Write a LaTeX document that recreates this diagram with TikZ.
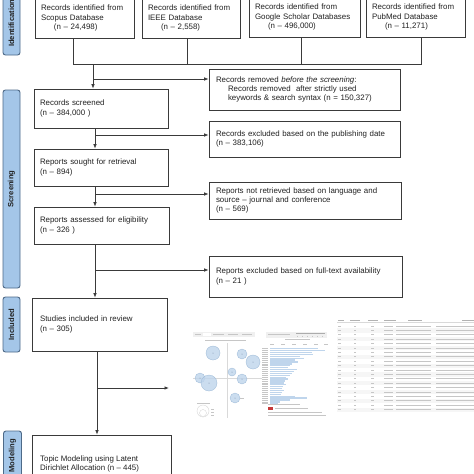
\documentclass[tikz,border=0pt]{standalone}
\usepackage{fontspec}
\setmainfont{Liberation Sans}
\usetikzlibrary{arrows.meta}
\definecolor{sidefill}{HTML}{A4C6E8}
\definecolor{sideline}{HTML}{4E6A88}
\definecolor{boxline}{HTML}{3A3A3A}
\definecolor{txt}{HTML}{222222}
\definecolor{ldablue}{HTML}{BFD5EC}
\definecolor{ldaline}{HTML}{9BB8D6}
\tikzset{
  prisma/.style={draw=boxline, line width=0.8pt, fill=white, inner xsep=6pt, inner ysep=0pt,
    align=left, text=txt, font=\fontsize{7.9}{9.3}\selectfont},
  boxtext/.style={inner sep=0pt, align=left, text=txt, font=\fontsize{7.9}{9.3}\selectfont},
  side/.style={draw=sideline, line width=0.9pt, fill=sidefill, rounded corners=2.5pt, inner sep=0pt,
    text=txt, font=\bfseries\fontsize{7.6}{9}\selectfont},
  sidetxt/.style={rotate=90, font=\bfseries\fontsize{7.6}{9}\selectfont, text=txt, inner sep=0pt},
  flow/.style={draw=boxline, line width=0.8pt},
  arr/.style={flow, -{Latex[length=4.5pt,width=3.6pt]}},
  ph/.style={draw=gray!45, line width=0.7pt},
  bubble/.style={fill=ldablue, fill opacity=0.8, draw=ldaline, line width=0.3pt}
}
\begin{document}
\begin{tikzpicture}[x=1pt,y=-1pt]
\useasboundingbox (0,0) rectangle (474,474);
\clip (0,0) rectangle (474,474);
\fill[white] (0,0) rectangle (474,474);

% sidebars
\node[side, minimum width=17pt, minimum height=80pt] (sid) at (11.5,15) {};
\node[sidetxt, anchor=west] (sidt) at (11.5,47) {Identification};
\node[side, rotate=90, minimum width=198pt, minimum height=17pt] (sscr) at (11.5,189) {Screening};
\node[side, rotate=90, minimum width=55pt, minimum height=17pt] (sinc) at (11.5,324.5) {Included};
\node[side, minimum width=18pt, minimum height=80pt] (smod) at (12.5,471) {};
\node[sidetxt, anchor=east] (smodt) at (12.5,439) {Modeling};

% identification boxes
\node[prisma, text width=87pt, minimum height=40pt] (scopus) at (84.5,18)
  {Records identified from\\Scopus Database\\\hspace*{13pt}(n -- 24,498)};
\node[prisma, text width=86pt, minimum height=40pt] (ieee) at (191,18)
  {Records identified from\\IEEE Database\\\hspace*{13pt}(n -- 2,558)};
\node[prisma, text width=99pt, minimum height=40pt] (google) at (304.5,17)
  {Records identified from\\Google Scholar Databases\\\hspace*{13pt}(n -- 496,000)};
\node[prisma, text width=87pt, minimum height=40pt] (pubmed) at (415.5,17)
  {Records identified from\\PubMed Database\\\hspace*{13pt}(n -- 11,271)};

% screening boxes
\node[prisma, text width=122pt, minimum height=39pt] (screened) at (101,108.5)
  {Records screened\\(n -- 384,000 )};
\node[prisma, inner xsep=7pt, text width=177pt, minimum height=41pt] (removed) at (304.5,89.5)
  {Records removed \textit{before the screening}:\\\hspace*{12pt}Records removed\ \ after strictly used\\\hspace*{12pt}keywords \& search syntax (n = 150,327)};
\node[prisma, inner xsep=7pt, text width=177pt, minimum height=36pt] (excluded) at (304.5,139)
  {Records excluded based on the publishing date\\(n -- 383,106)};
\node[prisma, text width=122pt, minimum height=37pt] (sought) at (101,167.5)
  {Reports sought for retrieval\\(n -- 894)};
\node[prisma, inner xsep=7pt, text width=178pt, minimum height=37pt] (notret) at (305,200.5)
  {Reports not retrieved based on language and\\source -- journal and conference\\(n -- 569)};
\node[prisma, text width=123pt, minimum height=37pt] (assessed) at (101.5,225.5)
  {Reports assessed for eligibility\\(n -- 326 )};
\node[prisma, inner xsep=7pt, text width=179pt, minimum height=41pt] (fulltext) at (305.5,276.5)
  {Reports excluded based on full-text availability\\(n -- 21 )\\[2pt]};
\node[prisma, inner xsep=8pt, text width=119pt, minimum height=53pt] (included) at (99.5,324.5)
  {Studies included in review\\(n -- 305)};
\node[prisma, minimum width=139pt, minimum height=70pt] (topic) at (101.5,470) {};
\node[boxtext, anchor=base west] (topict) at (40,470.5)
  {Topic Modeling using Latent\\Dirichlet Allocation (n -- 445)};

% connectors
\coordinate (jl) at (73,64);
\coordinate (jr) at (421,64);
\coordinate (j2) at (187,64);
\coordinate (j3) at (301,64);
\draw[flow] (jl |- scopus.south) -- (jl) -- (jr) -- (jr |- pubmed.south);
\draw[flow] (j2 |- ieee.south) -- (j2);
\draw[flow] (j3 |- google.south) -- (j3);
\coordinate (jd) at (93,64);
\draw[arr] (jd) -- (jd |- screened.north);
\coordinate (b1) at (93,79);
\draw[arr] (b1) -- (b1 -| removed.west);

\coordinate (d2) at (95,0);
\draw[arr] (d2 |- screened.south) -- (d2 |- sought.north);
\coordinate (b2) at (95,135);
\draw[arr] (b2) -- (b2 -| excluded.west);
\draw[arr] (d2 |- sought.south) -- (d2 |- assessed.north);
\coordinate (b3) at (95,194);
\draw[arr] (b3) -- (b3 -| notret.west);
\draw[arr] (d2 |- assessed.south) -- (d2 |- included.north);
\coordinate (b4) at (95,270);
\draw[arr] (b4) -- (b4 -| fulltext.west);

\coordinate (d5) at (97,0);
\draw[arr] (d5 |- included.south) -- (d5 |- topic.north);
\coordinate (b5) at (97,388);
\coordinate (ldain) at (169,388);
\draw[arr] (b5) -- (ldain);

% ---- LDA visualisation (picture) ----
\fill[gray!12] (193,332) rectangle (255,337);
\fill[white] (203,333) rectangle (211,336);
\draw[ph, line width=0.5pt] (195,334.5) -- (201,334.5) (213,334.5) -- (224,334.5) (228,334.5) -- (238,334.5) (242,334.5) -- (252,334.5);
\fill[gray!12] (266,332) rectangle (327,338);
\draw[ph, line width=0.5pt] (268,334.5) -- (290,334.5);
\draw[gray!65, line width=1pt] (296,333.5) -- (325,333.5);
\foreach \t in {297,302,...,325} \draw[gray!45, line width=0.3pt] (\t,335.5) -- (\t,337);
\draw[ph, line width=0.6pt] (205,340.5) -- (246,340.5);
\draw[ph, line width=0.6pt] (285,339.5) -- (310,339.5);
\foreach \t in {272,283,294,305,316,326} \draw[gray!45, line width=0.5pt] (\t-2,344) -- (\t+2,344);
\draw[gray!30, line width=0.3pt] (227,343) -- (227,418);
\draw[gray!30, line width=0.3pt] (193,378) -- (262,378);
\foreach \cx/\cy/\r in {213/353/7, 242/354/5, 253/362/7, 232/372/4, 200/378/5, 209/383/8, 242/379/5, 235/398/5}{
  \path[bubble] (\cx,\cy) circle (\r);
  \fill[ldaline!80!black] (\cx,\cy) circle (0.5);
}
\draw[ph, line width=0.4pt] (240,398) -- (244,398);
\draw[gray!35, line width=0.3pt] (203,411) circle (6);
\draw[gray!35, line width=0.3pt] (203,413) circle (3.5);
\draw[ph, line width=0.4pt] (197,403) -- (210,403) (211,409) -- (214,409) (211,412) -- (214,412) (211,415) -- (214,415);
\foreach \l [count=\i from 0] in {48,55,42,43,30,34,25,28,22,20,18,27,24,22,20,16,18,15,14,16,13,12,14,12,11,25,37,20,10,8}{
  \fill[ldablue] (270,{348+1.9*\i}) rectangle ++(\l,1.3);
  \fill[gray!45] (262,{348.3+1.9*\i}) rectangle ++(6,0.7);
}
\fill[red!55!gray] (268,406.5) rectangle (273,409.5);
\draw[ph, line width=0.5pt] (268,404) -- (300,404) (275,408) -- (308,408) (268,412) -- (322,412) (268,415) -- (326,415);

% ---- topic table (picture) ----
\foreach \x/\w in {338/6, 350/10, 368/10, 384/12, 408/14, 462/12}
  \draw[gray!60, line width=0.7pt] (\x,320) -- ++(\w,0);
\draw[gray!30, line width=0.3pt] (337,322.5) -- (474,322.5);
\foreach \r in {0,...,19}{
  \pgfmathsetmacro{\yy}{326+4.4*\r}
  \ifodd\r \fill[gray!7] (337,\yy-2) rectangle (474,\yy+2.2); \fi
  \draw[ph] (338,\yy) -- (341,\yy);
  \draw[ph] (354,\yy) -- (356,\yy);
  \draw[ph] (371,\yy) -- (374,\yy);
  \draw[ph] (384,\yy) -- (393,\yy);
  \draw[ph] (396,\yy) -- (431,\yy);
  \draw[ph] (436,\yy) -- (474,\yy);
}
\end{tikzpicture}
\end{document}
